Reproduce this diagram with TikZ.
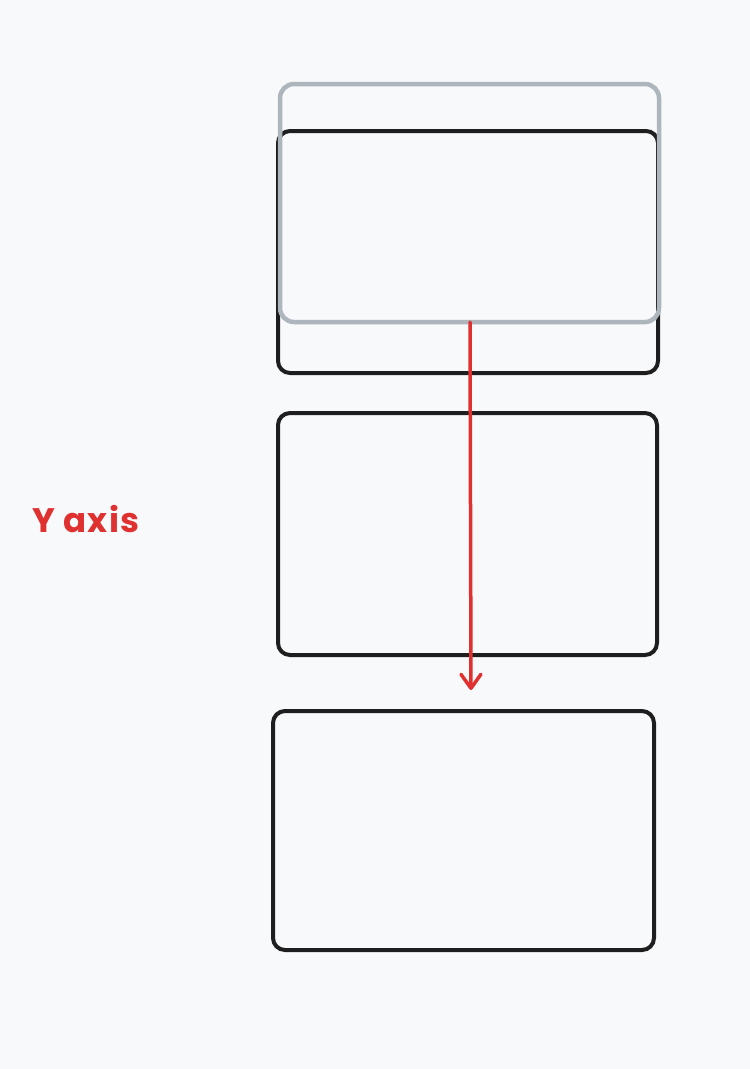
\documentclass[tikz,border=0pt]{standalone}
\usepackage{fontspec}
\setmainfont{Poppins}
\newfontfamily\labelfont[LetterSpace=4]{Poppins}
\usetikzlibrary{arrows.meta}
\definecolor{bg}{HTML}{F8F9FB}
\definecolor{ink}{HTML}{1E1E1E}
\definecolor{ghost}{HTML}{ADB5BD}
\definecolor{axisred}{HTML}{E03131}
\tikzset{
  frame/.style={draw=ink, line width=4pt, rounded corners=12pt},
  ghostframe/.style={draw=ghost, line width=4.5pt, rounded corners=14pt},
  axisarrow/.style={draw=axisred, line width=3.5pt, line cap=round,
    -{Straight Barb[length=14pt,width=20pt,line width=3.5pt,round]}},
}
\begin{document}
\begin{tikzpicture}[x=1pt,y=-1pt]
\useasboundingbox[fill=bg] (0,0) rectangle (750,1069);
\draw[frame] (278,131) rectangle (658,373);
\draw[frame] (278,413) rectangle (657,655);
\draw[frame] (273,711) rectangle (654,950);
\draw[ghostframe] (280,84) rectangle (659,322);
\coordinate (start) at (470,322);
\coordinate (stop) at (471,690);
\draw[axisarrow] (start) -- (stop);
\node[text=axisred, font=\labelfont\fontsize{34}{40}\selectfont\bfseries, anchor=west, inner sep=0pt] (lbl) at (32,519) {Y axis};
\end{tikzpicture}
\end{document}
